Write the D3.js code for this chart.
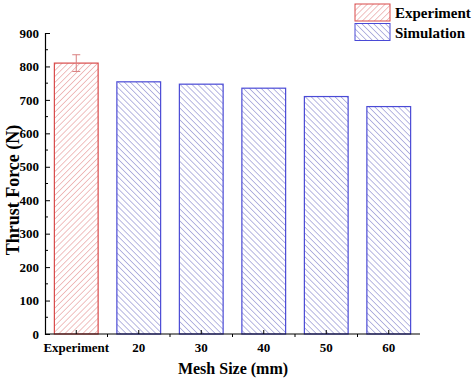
<!DOCTYPE html>
<html>
<head>
<meta charset="utf-8">
<script src="https://cdn.jsdelivr.net/npm/d3@7"></script>
<style>
  body { margin: 0; background: #fff; }
  text { font-family: "Liberation Serif", "Times New Roman", serif; font-weight: bold; }
</style>
</head>
<body>
<svg></svg>
<script>
var width = 474;
var height = 379;

var categories = ["Experiment", "20", "30", "40", "50", "60"];
var thrust = [810, 754, 747, 735, 710, 680];
var errors = [25, 0, 0, 0, 0, 0];
var series = ["Experiment", "Simulation", "Simulation", "Simulation", "Simulation", "Simulation"];
var yTicks = [0, 100, 200, 300, 400, 500, 600, 700, 800, 900];

var margin = { left: 45, right: 54, top: 33, bottom: 45 };

var svg = d3.select("svg")
  .attr("width", width)
  .attr("height", height);

// hatch patterns
var defs = svg.append("defs");
function hatch(id, color, dir) {
  var p = defs.append("pattern")
    .attr("id", id)
    .attr("patternUnits", "userSpaceOnUse")
    .attr("width", 4.2)
    .attr("height", 4.2)
    .attr("patternTransform", "rotate(" + dir + ")");
  p.append("line")
    .attr("x1", 0).attr("y1", 0)
    .attr("x2", 0).attr("y2", 4.2)
    .attr("stroke", color)
    .attr("stroke-width", 1);
}
hatch("hatchExp", "#e08282", 45);
hatch("hatchSim", "#7070c4", -45);

var styles = {
  Experiment: { fill: "url(#hatchExp)", stroke: "#d94a4a" },
  Simulation: { fill: "url(#hatchSim)", stroke: "#4a4ad6" }
};

var x = d3.scaleBand()
  .domain(categories)
  .range([margin.left, width - margin.right])
  .paddingInner(0.3)
  .paddingOuter(0.15);

var y = d3.scaleLinear()
  .domain([0, 900])
  .range([height - margin.bottom, margin.top]);

// bars
svg.selectAll("rect.bar")
  .data(categories)
  .enter()
  .append("rect")
    .attr("class", "bar")
    .attr("x", d => x(d))
    .attr("y", (d, i) => y(thrust[i]))
    .attr("width", x.bandwidth())
    .attr("height", (d, i) => y(0) - y(thrust[i]))
    .attr("fill", (d, i) => styles[series[i]].fill)
    .attr("stroke", (d, i) => styles[series[i]].stroke)
    .attr("stroke-width", 1.2);

// error bar on experiment
var errG = svg.append("g").attr("stroke", "#d98080").attr("stroke-width", 1);
categories.forEach(function (c, i) {
  if (!errors[i]) return;
  var cx = x(c) + x.bandwidth() / 2;
  errG.append("line").attr("x1", cx).attr("x2", cx)
    .attr("y1", y(thrust[i] + errors[i])).attr("y2", y(thrust[i] - errors[i]));
  errG.append("line").attr("x1", cx - 4).attr("x2", cx + 4)
    .attr("y1", y(thrust[i] + errors[i])).attr("y2", y(thrust[i] + errors[i]));
  errG.append("line").attr("x1", cx - 4).attr("x2", cx + 4)
    .attr("y1", y(thrust[i] - errors[i])).attr("y2", y(thrust[i] - errors[i]));
});

// y axis
var yAxis = svg.append("g")
  .attr("transform", "translate(" + margin.left + ",0)")
  .call(d3.axisLeft(y).tickValues(yTicks).tickSize(-5).tickPadding(6));
yAxis.select(".domain").attr("stroke-width", 1.2);
yAxis.selectAll("text").attr("font-size", 13).attr("fill", "#000");
yAxis.selectAll(".minor")
  .data(yTicks.slice(0, -1).map(v => v + 50))
  .enter()
  .append("line")
    .attr("x1", 0).attr("x2", 3)
    .attr("y1", d => y(d)).attr("y2", d => y(d))
    .attr("stroke", "#000");

// x axis
var xAxis = svg.append("g")
  .attr("transform", "translate(0," + y(0) + ")")
  .call(d3.axisBottom(x).tickSize(-4).tickSizeOuter(0).tickPadding(9));
xAxis.select(".domain").attr("stroke-width", 1.2)
  .attr("d", "M" + margin.left + ",0H" + (width - margin.right));
xAxis.selectAll("text").attr("font-size", 13).attr("fill", "#000");
var step = x.step();
xAxis.selectAll(".minor")
  .data(categories.slice(1))
  .enter()
  .append("line")
    .attr("x1", d => x(d) - x.paddingInner() * step / 2)
    .attr("x2", d => x(d) - x.paddingInner() * step / 2)
    .attr("y1", 0).attr("y2", 3)
    .attr("stroke", "#000");

// axis titles
svg.append("text")
  .attr("x", 233)
  .attr("y", 374)
  .attr("text-anchor", "middle")
  .attr("font-size", 16)
  .text("Mesh Size (mm)");

svg.append("text")
  .attr("transform", "translate(19,190) rotate(-90)")
  .attr("text-anchor", "middle")
  .attr("font-size", 18)
  .text("Thrust Force (N)");

// legend
var legendItems = ["Experiment", "Simulation"];
var legend = svg.append("g").attr("transform", "translate(355,4)");
legendItems.forEach(function (name, i) {
  var g = legend.append("g").attr("transform", "translate(0," + (i * 19.5) + ")");
  g.append("rect")
    .attr("width", 35).attr("height", 17)
    .attr("fill", styles[name].fill)
    .attr("stroke", styles[name].stroke)
    .attr("stroke-width", 1);
  g.append("text")
    .attr("x", 40).attr("y", 14)
    .attr("font-size", 15)
    .text(name);
});
</script>
</body>
</html>
